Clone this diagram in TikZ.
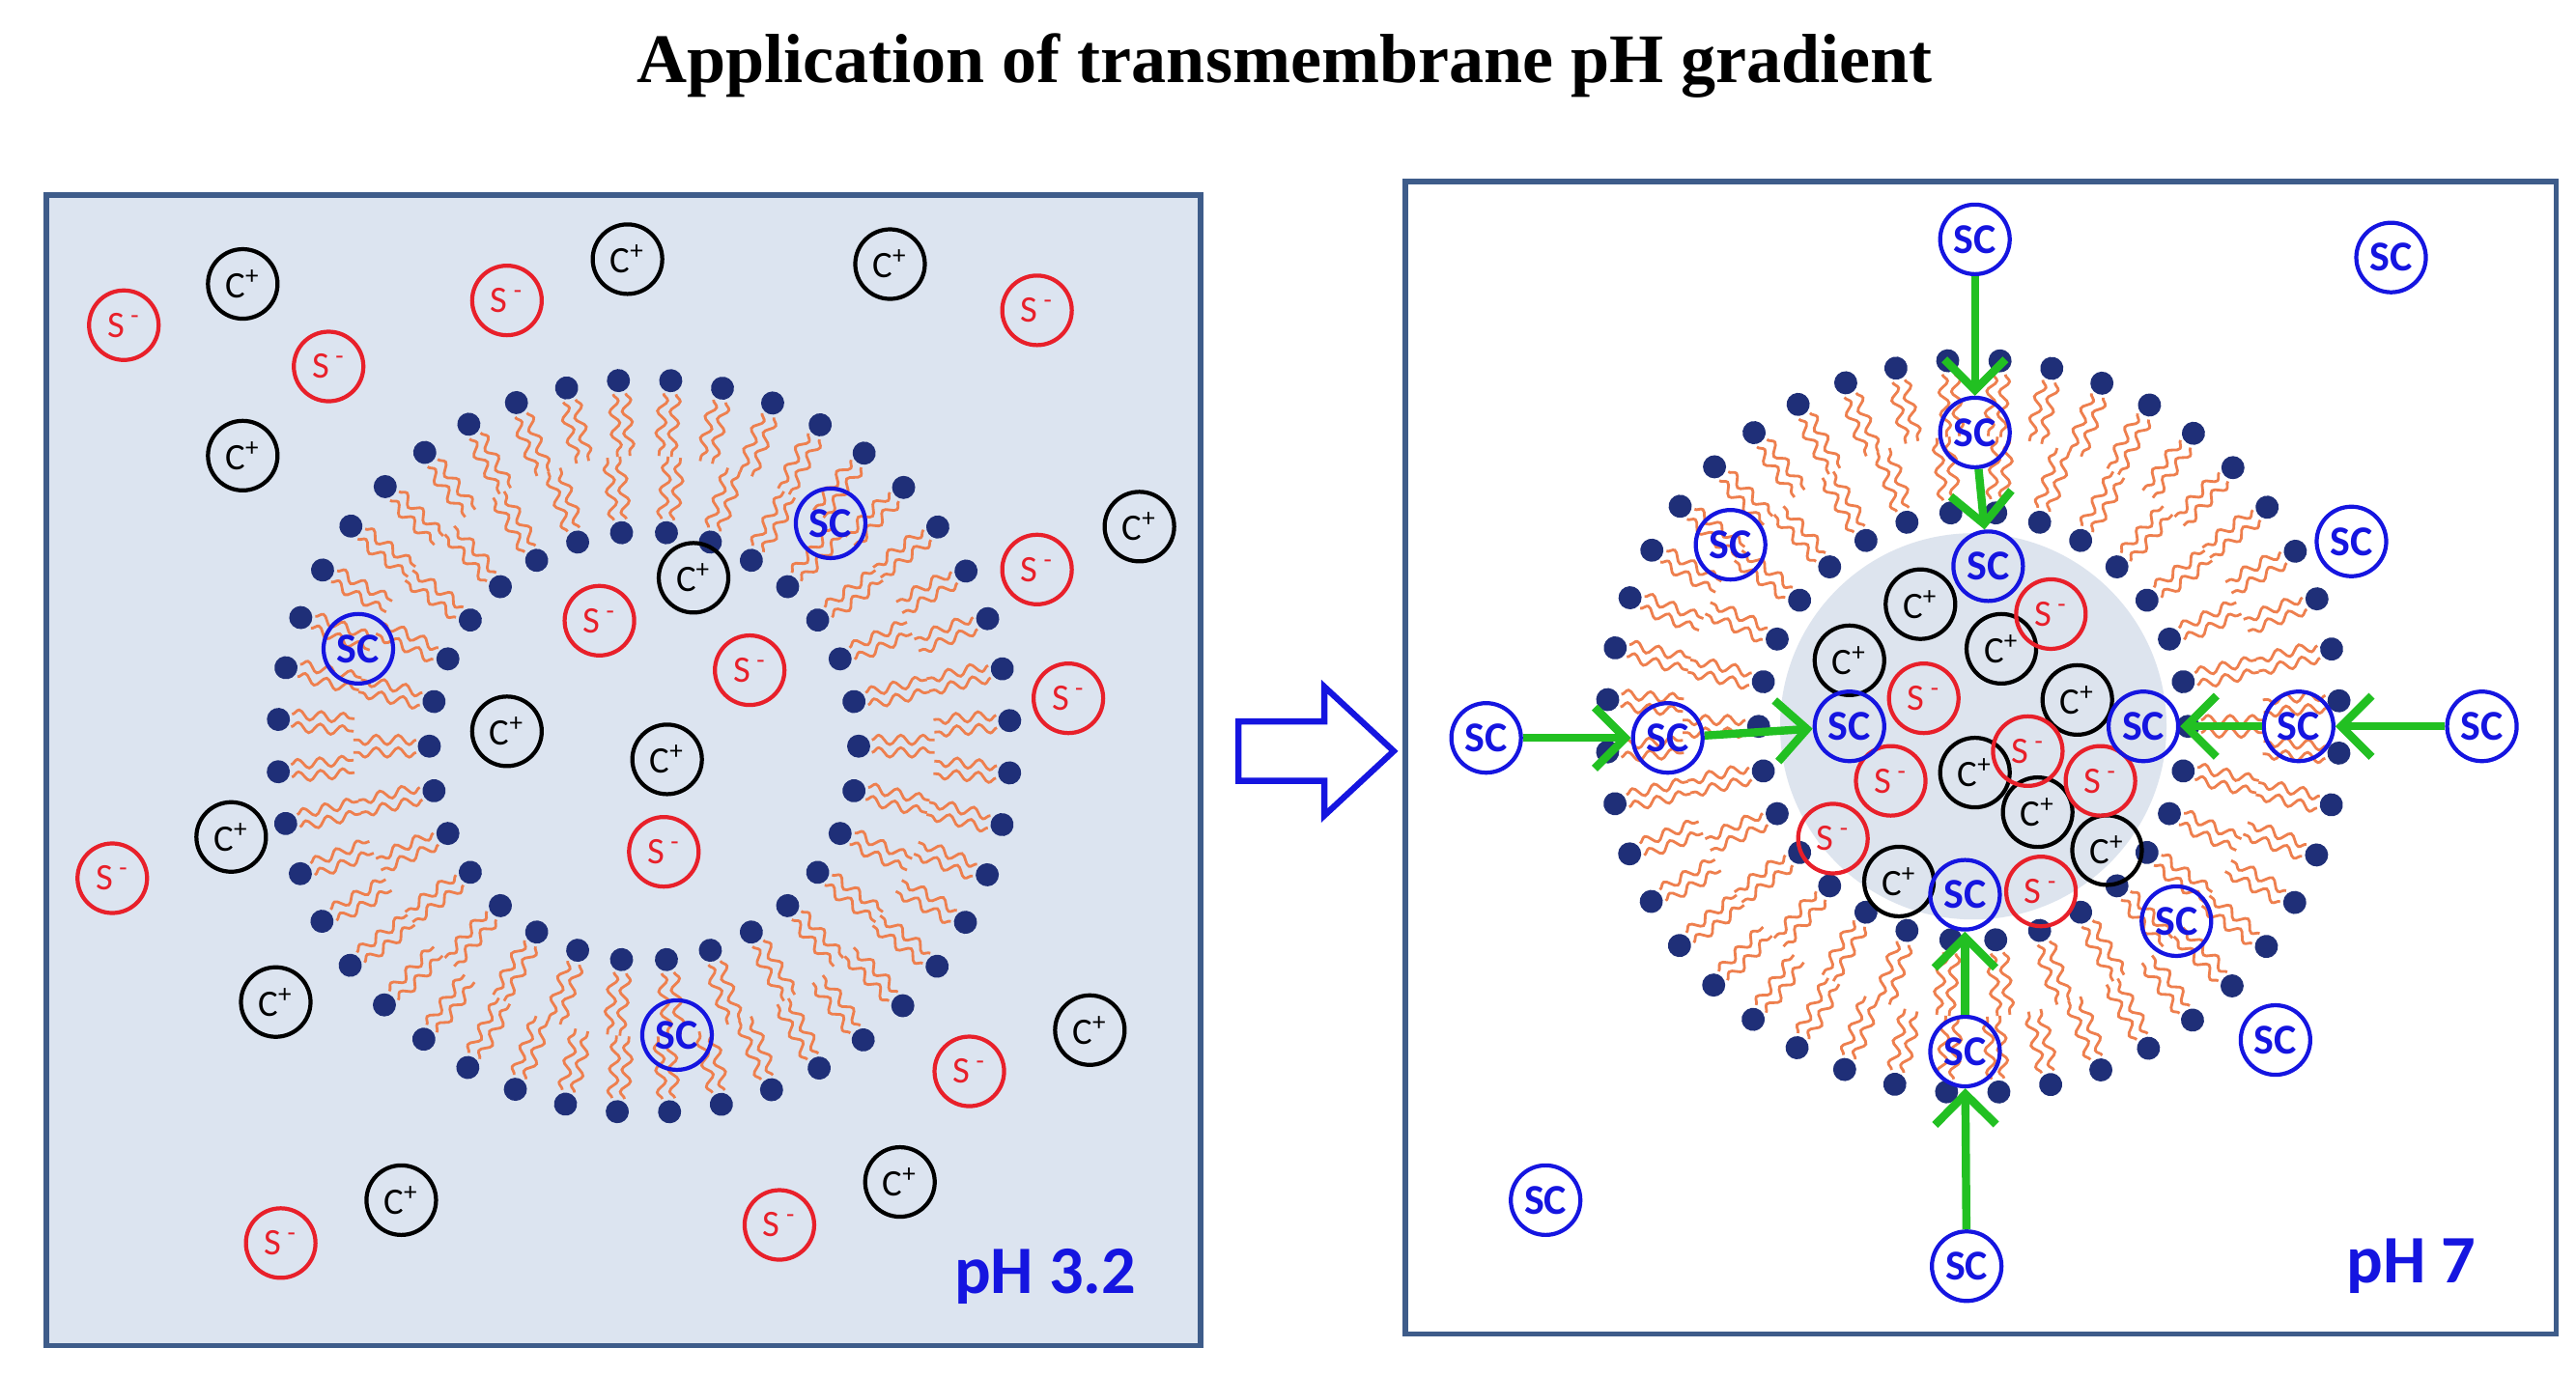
\documentclass[tikz,border=0pt]{standalone}
\usepackage{fontspec}
\setmainfont{Carlito}
\newfontfamily\titlefont{Liberation Serif}
\usetikzlibrary{decorations.pathmorphing,arrows.meta}
\definecolor{panelbg}{HTML}{DCE4F0}
\definecolor{frame}{HTML}{3E5C8A}
\definecolor{head}{HTML}{1F2F78}
\definecolor{tail}{HTML}{EE7F4E}
\definecolor{sblue}{HTML}{1515E0}
\definecolor{sred}{HTML}{E8202A}
\definecolor{gar}{HTML}{22C022}
\definecolor{core}{HTML}{DDE4EE}
\tikzset{
  ion/.style={circle,draw,line width=1.2pt,minimum size=0.72cm,inner sep=0pt,fill=none},
  cion/.style={ion,draw=black,text=black,font=\fontsize{11}{11}\selectfont},
  sion/.style={ion,draw=sred,text=sred,font=\fontsize{11}{11}\selectfont},
  scion/.style={ion,draw=sblue,text=sblue,font=\fontsize{12.5}{12}\selectfont\bfseries},
  tailline/.style={draw=tail,line width=0.8pt,decorate,decoration={snake,segment length=6.5pt,amplitude=1.4pt}},
  headdot/.style={fill=head},
  garrow/.style={draw=gar,line width=2.4pt,-{Straight Barb[length=9pt,width=18pt,line width=2.4pt]}},
}
\newcommand{\Cp}{C\textsuperscript{+}}
\newcommand{\Sm}{S\,\textsuperscript{-}}
\newcommand{\membrane}{%
  \foreach \i in {0,...,43}{%
    \pgfmathsetmacro{\a}{\i*360/44+4}
    \begin{scope}[rotate=\a]
      \draw[tailline] (214,3.8) -- (176,3.8);
      \draw[tailline] (214,-3.8) -- (176,-3.8);
      \fill[headdot] (222,0) circle (7);
    \end{scope}}
  \foreach \i in {0,...,29}{%
    \pgfmathsetmacro{\a}{\i*12}
    \begin{scope}[rotate=\a]
      \draw[tailline] (138,3.8) -- (176,3.8);
      \draw[tailline] (138,-3.8) -- (176,-3.8);
      \fill[headdot] (130,0) circle (7);
    \end{scope}}}
\begin{document}
\begin{tikzpicture}[x=0.017096cm,y=-0.017096cm]
\useasboundingbox (0,0) rectangle (1560,833);
\node[font=\titlefont\bfseries\fontsize{20.5}{22}\selectfont] (title) at (778,40) {Application of transmembrane pH gradient};
% panels
\draw[frame,line width=1.6pt,fill=panelbg] (28,118) rectangle (727,815);
\draw[frame,line width=1.6pt,fill=white] (851,110) rectangle (1548,808);
% left liposome
\begin{scope}[shift={(390,452)}]\membrane\end{scope}
% right liposome
\fill[core] (1195,440) circle (117);
\begin{scope}[shift={(1195,440)}]\membrane\end{scope}
% left ions
\foreach \p [count=\k] in {(147,172),(380,157),(539,160),(147,276),(690,319),(420,350),(307,443),(404,460),(140,507),(167,607),(660,624),(243,727),(545,716)}
  \node[cion] (lc\k) at \p {\Cp};
\foreach \p [count=\k] in {(75,197),(307,182),(199,222),(628,188),(628,345),(363,376),(454,406),(647,423),(402,516),(68,532),(587,649),(170,753),(472,742)}
  \node[sion] (ls\k) at \p {\Sm};
\foreach \p [count=\k] in {(503,317),(217,393),(410,627)}
  \node[scion] (lsc\k) at \p {SC};
\node[text=sblue,font=\bfseries\fontsize{20}{20}\selectfont] (ph1) at (633,773) {pH 3.2};
% right ions
\foreach \p [count=\k] in {(1163,366),(1212,393),(1120,400),(1258,424),(1196,468),(1234,492),(1150,534),(1276,515)}
  \node[cion] (rc\k) at \p {\Cp};
\foreach \p [count=\k] in {(1242,372),(1165,423),(1228,455),(1145,473),(1272,473),(1110,508),(1236,540)}
  \node[sion] (rs\k) at \p {\Sm};
\foreach \n/\p in {t1/{(1196,145)},o1/{(1448,156)},o2/{(1424,328)},l1/{(900,447)},r1/{(1503,440)},o3/{(1378,630)},o4/{(936,727)},b1/{(1191,767)},
  t2/{(1196,262)},m1/{(1048,330)},l2/{(1010,447)},r2/{(1392,440)},m2/{(1318,558)},b2/{(1190,637)},
  t3/{(1204,343)},l3/{(1120,440)},r3/{(1298,440)},b3/{(1190,542)}}
  \node[scion] (\n) at \p {SC};
\node[text=sblue,font=\bfseries\fontsize{20}{20}\selectfont] (ph2) at (1460,767) {pH 7};
% green arrows
\draw[garrow] (t1) -- (t2); \draw[garrow] (t2) -- (t3);
\draw[garrow] (l1) -- (l2); \draw[garrow] (l2) -- (l3);
\draw[garrow] (r1) -- (r2); \draw[garrow] (r2) -- (r3);
\draw[garrow] (b1) -- (b2); \draw[garrow] (b2) -- (b3);
% hollow arrow
\draw[sblue,line width=1.8pt,fill=white,line join=miter] (750,437) -- (802,437) -- (802,416) -- (844,455) -- (802,494) -- (802,473) -- (750,473) -- cycle;
\end{tikzpicture}
\end{document}
